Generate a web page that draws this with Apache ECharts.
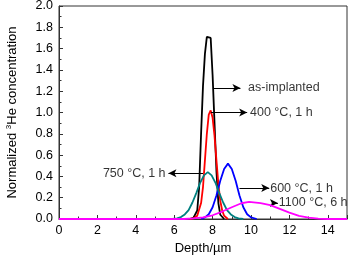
<!DOCTYPE html>
<html><head><meta charset="utf-8">
<script src="https://cdn.jsdelivr.net/npm/echarts@6/dist/echarts.min.js"></script>
<style>html,body{margin:0;padding:0;background:#fff}#c{width:350px;height:260px}</style>
</head><body><div id="c"></div>
<script>
// Depth (µm) and normalized 3He concentration
var asImplanted = [[6.8,0],[7.0,0.01],[7.2,0.08],[7.3,0.3],[7.4,0.8],[7.5,1.25],[7.6,1.55],[7.7,1.71],[7.8,1.72],[7.9,1.70],[8.0,1.35],[8.1,0.9],[8.2,0.45],[8.3,0.15],[8.4,0.04],[8.6,0]];
var t400 = [[6.8,0],[7.0,0.005],[7.2,0.03],[7.4,0.15],[7.5,0.3],[7.6,0.55],[7.7,0.8],[7.8,0.98],[7.9,1.02],[8.0,0.95],[8.1,0.78],[8.2,0.55],[8.3,0.33],[8.4,0.17],[8.5,0.08],[8.6,0.03],[8.8,0]];
var t600 = [[7.4,0],[7.6,0.015],[7.8,0.045],[8.0,0.11],[8.2,0.22],[8.4,0.36],[8.6,0.47],[8.8,0.52],[9.0,0.47],[9.2,0.36],[9.4,0.22],[9.6,0.11],[9.8,0.045],[10.0,0.015],[10.3,0]];
var t750 = [[5.9,0],[6.15,0.006],[6.35,0.018],[6.55,0.043],[6.75,0.084],[6.95,0.155],[7.15,0.243],[7.35,0.34],[7.55,0.41],[7.75,0.44],[7.95,0.41],[8.15,0.34],[8.35,0.243],[8.55,0.155],[8.75,0.084],[8.95,0.043],[9.15,0.018],[9.35,0.006],[9.6,0]];
var t1100 = [[0,0],[6.5,0],[7.0,0.006],[7.5,0.015],[8.0,0.035],[8.5,0.07],[9.0,0.11],[9.5,0.148],[9.9,0.16],[10.5,0.15],[11.0,0.13],[11.5,0.095],[12.0,0.06],[12.5,0.03],[13.0,0.013],[13.5,0.004],[14.0,0],[15,0]];

var seriesNames = ['as-implanted','400 °C, 1 h','600 °C, 1 h','750 °C, 1 h','1100 °C, 6 h'];
var seriesColors = ['#000000','#ff0000','#0000ff','#008080','#ff00ff'];
var seriesData = [asImplanted, t400, t600, t750, t1100];

// annotation arrows: [x1,y1,x2,y2]
var arrows = [[8.02,1.23,9.45,1.23],[7.92,1.0,9.8,1.0],[7.5,0.43,5.7,0.43],[9.4,0.29,10.95,0.29],[11.1,0.15,11.4,0.15]];
// annotation texts: [x,y,text,side]
var notes = [[9.85,1.23,'as-implanted','right'],[9.95,1.0,'400 °C, 1 h','right'],[5.55,0.43,'750 °C, 1 h','left'],[11.0,0.29,'600 °C, 1 h','right'],[11.45,0.15,'1100 °C, 6 h','right']];

var xTicks = {min:0, max:15, interval:2};
var yTicks = {min:0, max:2, interval:0.2};

var chart = echarts.init(document.getElementById('c'));
var font = 'Liberation Sans, Arial, sans-serif';
var series = seriesData.map(function(d,i){
  return {type:'line', name:seriesNames[i], data:d, showSymbol:false, symbol:'none',
    lineStyle:{color:seriesColors[i], width:1.8}, itemStyle:{color:seriesColors[i]}, z:2+i, animation:false};
});
series.push({type:'line', data:[], markLine:{silent:true, symbol:['none','arrow'], symbolSize:[6,8],
  lineStyle:{color:'#000', width:1, type:'solid'}, label:{show:false}, animation:false,
  data: arrows.map(function(a){return [{coord:[a[0],a[1]]},{coord:[a[2],a[3]]}];})}, z:10});
series.push({type:'scatter', symbolSize:0, z:11, animation:false, silent:true,
  data: notes.map(function(n){return {value:[n[0],n[1]], name:n[2], label:{position:n[3]}};}),
  label:{show:true, distance:0, color:'#000', fontFamily:font, fontSize:12.5, formatter:function(p){return p.name;}}});

chart.setOption({
  animation:false,
  backgroundColor:'#fff',
  grid:{left:59, right:3, top:6, bottom:41, show:true, borderColor:'#333', borderWidth:1, containLabel:false, outerBoundsMode:'none'},
  xAxis:{type:'value', min:xTicks.min, max:xTicks.max, interval:xTicks.interval,
    name:'Depth/µm', nameLocation:'middle', nameGap:22,
    nameTextStyle:{fontFamily:font, fontSize:13, color:'#000'},
    axisLine:{lineStyle:{color:'#333'}}, axisTick:{inside:true, length:4, lineStyle:{color:'#333'}},
    minorTick:{show:true, splitNumber:2, length:2.5, lineStyle:{color:'#333'}},
    splitLine:{show:false}, minorSplitLine:{show:false},
    axisLabel:{fontFamily:font, fontSize:12.5, color:'#000', margin:5, showMaxLabel:false}},
  yAxis:{type:'value', min:yTicks.min, max:yTicks.max, interval:yTicks.interval,
    name:'Normalized {s|3}He concentration', nameLocation:'middle', nameGap:40,
    nameTextStyle:{fontFamily:font, fontSize:13, color:'#000', rich:{s:{fontSize:8, verticalAlign:'top', padding:[0,0,6,0], fontFamily:font}}},
    axisLine:{show:true, lineStyle:{color:'#333'}}, axisTick:{show:true, inside:true, length:4, lineStyle:{color:'#333'}},
    minorTick:{show:true, splitNumber:2, length:2.5, lineStyle:{color:'#333'}},
    splitLine:{show:false}, minorSplitLine:{show:false},
    axisLabel:{fontFamily:font, fontSize:12.5, color:'#000', margin:6, formatter:function(v){return v.toFixed(1);}}},
  series:series
});
</script></body></html>
